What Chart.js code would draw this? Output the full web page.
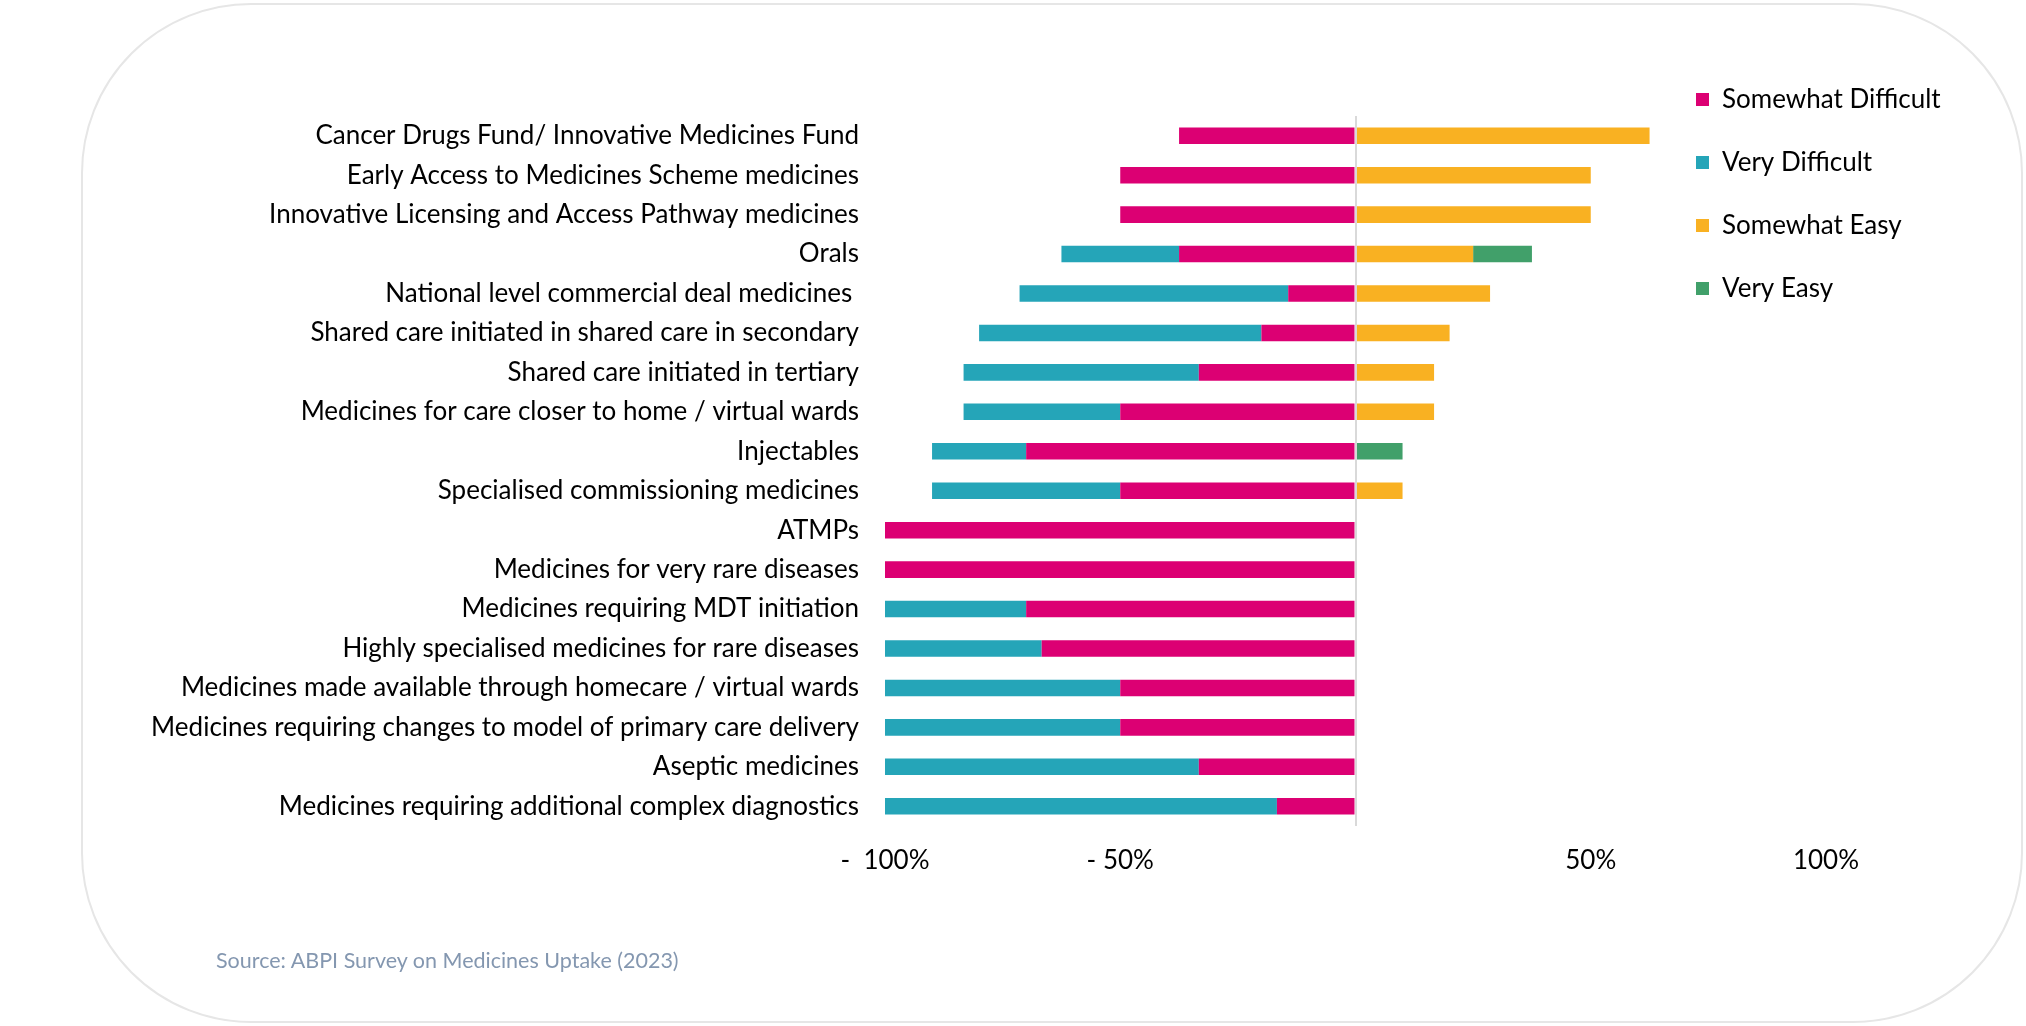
<!DOCTYPE html>
<html>
<head>
<meta charset="utf-8">
<script src="https://cdn.jsdelivr.net/npm/chart.js@4/dist/chart.umd.min.js"></script>
<style>
  html, body { margin: 0; padding: 0; background: #ffffff; }
  #wrap { position: relative; width: 2026px; height: 1026px; overflow: hidden; }
  #card { position: absolute; left: 81px; top: 3px; width: 1942px; height: 1020px; box-sizing: border-box;
          border: 2px solid #e6e6e6; border-radius: 170px; background: #fff; }
  #chart { position: absolute; left: 0; top: 0; }
  #source { position: absolute; left: 216px; top: 947px; font-family: Lato, sans-serif; font-size: 21.5px; color: #8497B0; white-space: nowrap; }
</style>
</head>
<body>
<div id="wrap">
  <div id="card"></div>
  <canvas id="chart" width="2026" height="1026"></canvas>
  <div id="source">Source: ABPI Survey on Medicines Uptake (2023)</div>
</div>
<script>
const categories = [
  "Cancer Drugs Fund/ Innovative Medicines Fund",
  "Early Access to Medicines Scheme medicines",
  "Innovative Licensing and Access Pathway medicines",
  "Orals",
  "National level commercial deal medicines ",
  "Shared care initiated in shared care in secondary",
  "Shared care initiated in tertiary",
  "Medicines for care closer to home / virtual wards",
  "Injectables",
  "Specialised commissioning medicines",
  "ATMPs",
  "Medicines for very rare diseases",
  "Medicines requiring MDT initiation",
  "Highly specialised medicines for rare diseases",
  "Medicines made available through homecare / virtual wards",
  "Medicines requiring changes to model of primary care delivery",
  "Aseptic medicines",
  "Medicines requiring additional complex diagnostics"
];
// difficult responses plotted as negative percentages
const somewhatDifficult = [-37.5, -50, -50, -37.5, -14.3, -20, -33.3, -50, -70, -50, -100, -100, -70, -66.7, -50, -50, -33.3, -16.7];
const veryDifficult     = [0, 0, 0, -25, -57.1, -60, -50, -33.3, -20, -40, 0, 0, -30, -33.3, -50, -50, -66.7, -83.3];
const somewhatEasy      = [62.5, 50, 50, 25, 28.6, 20, 16.7, 16.7, 0, 10, 0, 0, 0, 0, 0, 0, 0, 0];
const veryEasy          = [0, 0, 0, 12.5, 0, 0, 0, 0, 10, 0, 0, 0, 0, 0, 0, 0, 0, 0];
const seriesNames = ["Somewhat Difficult", "Very Difficult", "Somewhat Easy", "Very Easy"];
const xTickValues = [-100, -50, 0, 50, 100];
const xTickLabels = ["-  100%", "- 50%", "", "50%", "100%"];

const colors = ["#DC0073", "#25A5B8", "#F9B122", "#41A06A"];

const legendMover = {
  id: 'legendMover',
  afterLayout(chart) {
    const lg = chart.legend;
    if (!lg) return;
    const w = lg.width, h = lg.height;
    lg.left = 1659; lg.top = 49.5;
    lg.right = lg.left + w; lg.bottom = lg.top + h;
  }
};

function draw() {
  Chart.defaults.font.family = "Lato, 'Open Sans', sans-serif";
  Chart.defaults.color = "#000";
  const mk = (i, data) => ({
    label: seriesNames[i], data: data, backgroundColor: colors[i], borderWidth: 0,
    stack: 's', categoryPercentage: 1.0, barPercentage: 0.42
  });
  new Chart(document.getElementById('chart'), {
    type: 'bar',
    data: {
      labels: categories,
      datasets: [mk(0, somewhatDifficult), mk(1, veryDifficult), mk(2, somewhatEasy), mk(3, veryEasy)]
    },
    options: {
      indexAxis: 'y',
      responsive: false,
      animation: false,
      devicePixelRatio: 1,
      layout: { padding: { left: 0, right: 200, top: 116, bottom: 150 } },
      plugins: {
        tooltip: { enabled: false },
        legend: {
          position: 'chartArea',
          align: 'start',
          labels: { boxWidth: 13, boxHeight: 13, padding: 37, color: '#000', font: { size: 26 } }
        }
      },
      scales: {
        x: {
          type: 'linear', stacked: true, min: -100, max: 100,
          afterBuildTicks: (s) => { s.ticks = xTickValues.map(v => ({ value: v })); },
          afterFit: (s) => { s.height = 50; },
          ticks: {
            padding: 19, font: { size: 26 }, color: '#000', maxRotation: 0,
            callback: (v) => { const i = xTickValues.indexOf(v); return i >= 0 ? xTickLabels[i] : ''; }
          },
          grid: {
            drawTicks: false, lineWidth: 2, z: 1,
            color: (c) => (c.tick && c.tick.value === 0) ? '#d9d9d9' : 'rgba(0,0,0,0)'
          },
          border: { display: false }
        },
        y: {
          stacked: true,
          afterFit: (s) => { s.width = 885; },
          ticks: { padding: 26, font: { size: 26 }, color: '#000', autoSkip: false },
          grid: { display: false, drawTicks: false },
          border: { display: false }
        }
      }
    },
    plugins: [legendMover]
  });
}
if (document.fonts && document.fonts.load) {
  Promise.all([document.fonts.load("26px Lato"), document.fonts.load("21px Lato")]).then(draw, draw);
} else { draw(); }
</script>
</body>
</html>
